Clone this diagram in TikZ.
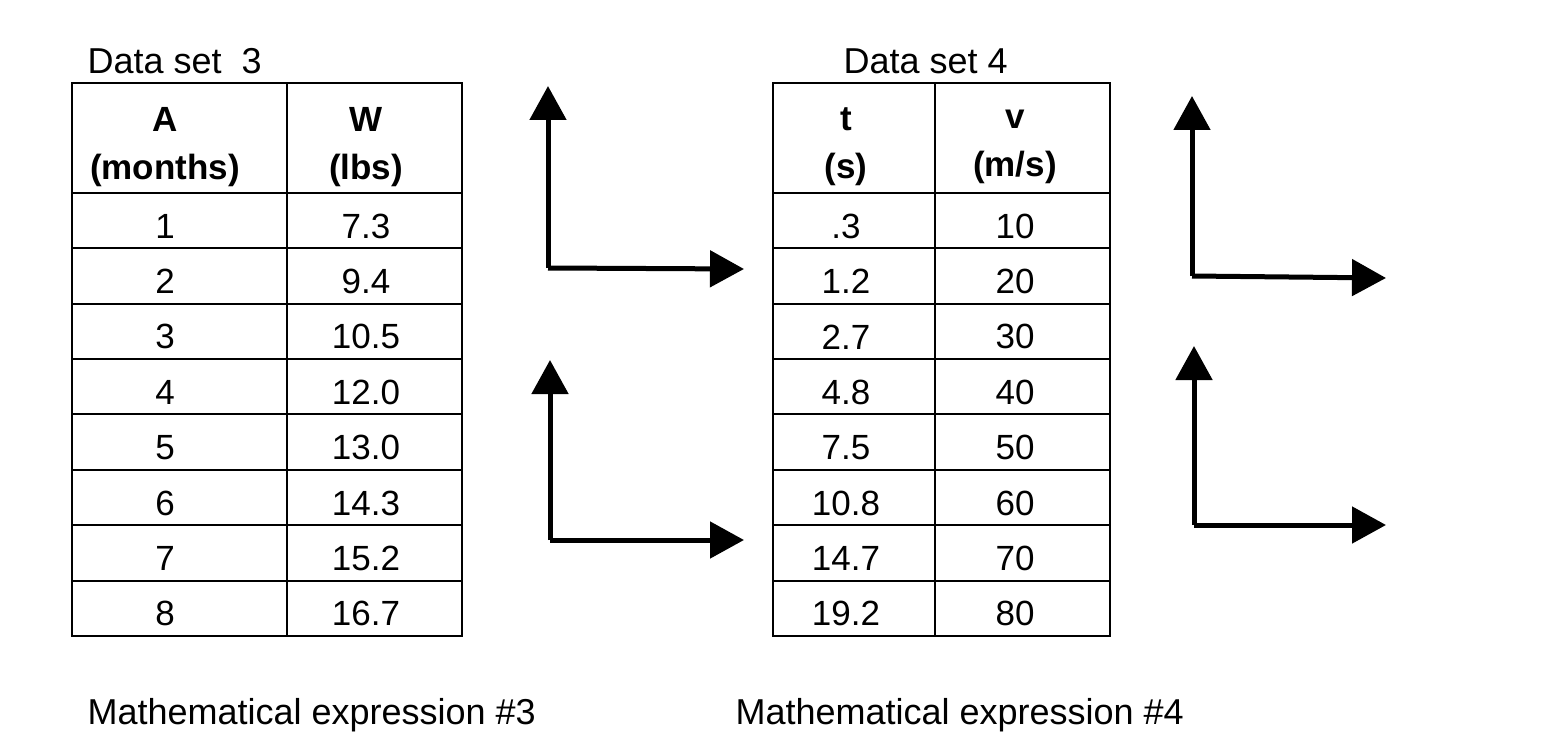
\documentclass[tikz,border=0pt]{standalone}
\usepackage{fontspec}
\setmainfont{Liberation Sans}
\usetikzlibrary{arrows.meta}
\begin{document}
\begin{tikzpicture}[x=1pt,y=-1pt,
  cell/.style={font=\fontsize{35}{40}\selectfont},
  hcell/.style={font=\bfseries\fontsize{35}{40}\selectfont,align=center},
  lbl/.style={font=\fontsize{36}{40}\selectfont,anchor=base west},
  axis/.style={line width=5pt,-{Triangle[width=36pt,length=34pt]}},
  grid/.style={line width=1.2pt}]
\useasboundingbox (0,0) rectangle (1560,746);
\draw[grid] (72,83) rectangle (462,636);
\draw[grid] (287,83) -- (287,636);
\foreach \y in {193,248,304,359,414,470,525,581} \draw[grid] (72,\y) -- (462,\y);
\draw[grid] (773,83) rectangle (1110,636);
\draw[grid] (935,83) -- (935,636);
\foreach \y in {193,248,304,359,414,470,525,581} \draw[grid] (773,\y) -- (1110,\y);
\node[lbl] (d3) at (84,74) {Data set\ \ 3};
\node[lbl] (d4) at (840,74) {Data set 4};
\node[lbl] (m3) at (84,724) {Mathematical expression \#3};
\node[lbl] (m4) at (732,724) {Mathematical expression \#4};
\node[hcell] (hA) at (165,147) {A\\[8pt](months)};
\node[hcell] (hW) at (366,147) {W\\[8pt](lbs)};
\node[hcell] (ht) at (846,147) {t\\[8pt](s)};
\node[hcell] (hv) at (1015,147) {v\\[8pt](m/s)};
\foreach \a/\b/\c/\d [count=\i] in {1/7.3/.3/10,2/9.4/1.2/20,3/10.5/2.7/30,4/12.0/4.8/40,5/13.0/7.5/50,6/14.3/10.8/60,7/15.2/14.7/70,8/16.7/19.2/80}{
  \pgfmathsetmacro\yy{193+55.4*(\i-1)+33}
  \node[cell] (a\i) at (165,\yy) {\a};
  \node[cell] (w\i) at (366,\yy) {\b};
  \node[cell] (t\i) at (846,\yy) {\c};
  \node[cell] (v\i) at (1015,\yy) {\d};
}
\coordinate (o1) at (548,268); \coordinate (y1) at (548,86); \coordinate (x1) at (744,269);
\coordinate (o2) at (550,540); \coordinate (y2) at (550,360); \coordinate (x2) at (744,540);
\coordinate (o3) at (1192,276); \coordinate (y3) at (1192,96); \coordinate (x3) at (1386,278);
\coordinate (o4) at (1194,525); \coordinate (y4) at (1194,346); \coordinate (x4) at (1386,525);
\foreach \k in {1,2,3,4}{
  \draw[axis] (o\k) -- (y\k);
  \draw[axis] (o\k) -- (x\k);
}
\end{tikzpicture}
\end{document}
